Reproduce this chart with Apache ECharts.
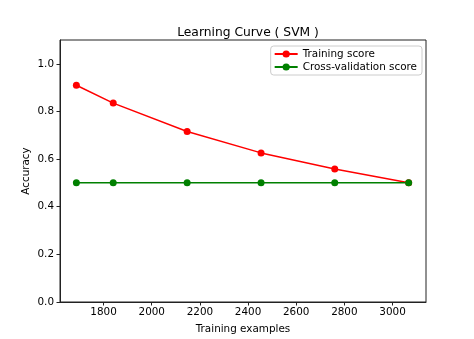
<!DOCTYPE html>
<html>
<head>
<meta charset="utf-8">
<script src="https://cdn.jsdelivr.net/npm/echarts@6/dist/echarts.min.js"></script>
<style>html,body{margin:0;padding:0;background:#fff}#c{width:474px;height:339px}</style>
</head>
<body>
<div id="c"></div>
<script>
const trainSizes = [1687, 1840, 2147, 2454, 2760, 3067];
const trainScore = [0.910, 0.835, 0.716, 0.626, 0.558, 0.501];
const cvScore = [0.501, 0.501, 0.501, 0.501, 0.501, 0.501];
const xTicks = [1800, 2000, 2200, 2400, 2600, 2800, 3000];
const yTicks = [0.0, 0.2, 0.4, 0.6, 0.8, 1.0];

const font = 'DejaVu Sans';
const chart = echarts.init(document.getElementById('c'), null, {renderer: 'canvas'});
chart.setOption({
  animation: false,
  backgroundColor: '#fff',
  textStyle: {fontFamily: font},
  title: {
    text: 'Learning Curve ( SVM )',
    left: 243, top: 22, textAlign: 'center',
    textStyle: {fontFamily: font, fontSize: 12.3, fontWeight: 'normal', color: '#000'}
  },
  grid: {left: 60, right: 48, top: 40, bottom: 37, show: true, borderColor: '#222', borderWidth: 1, backgroundColor: 'transparent'},
  legend: {
    orient: 'vertical', right: 52, top: 46,
    backgroundColor: 'rgba(255,255,255,0.8)',
    borderColor: '#ccc', borderWidth: 1, borderRadius: 3,
    padding: [3, 5, 3, 3],
    itemWidth: 23, itemHeight: 9, itemGap: 3,
    textStyle: {fontFamily: font, fontSize: 10.4, color: '#000'},
    data: ['Training score', 'Cross-validation score']
  },
  xAxis: {
    type: 'value', min: 1619, max: 3139,
    name: 'Training examples', nameLocation: 'middle', nameGap: 22, nameMoveOverlap: false,
    nameTextStyle: {fontFamily: font, fontSize: 10.4, color: '#000'},
    axisLine: {show: true, lineStyle: {color: '#222', width: 1}},
    axisTick: {show: true, inside: false, length: 3.5, lineStyle: {color: '#222'}, customValues: xTicks},
    axisLabel: {fontFamily: font, fontSize: 10.4, color: '#000', margin: 5, customValues: xTicks,
      formatter: v => String(v)},
    splitLine: {show: false}
  },
  yAxis: {
    type: 'value', min: 0, max: 1.1,
    name: 'Accuracy', nameLocation: 'middle', nameGap: 29, nameRotate: 90, nameMoveOverlap: false,
    nameTextStyle: {fontFamily: font, fontSize: 10.4, color: '#000'},
    axisLine: {show: true, lineStyle: {color: '#222', width: 1}},
    axisTick: {show: true, inside: false, length: 3.5, lineStyle: {color: '#222'}, customValues: yTicks},
    axisLabel: {fontFamily: font, fontSize: 10.4, color: '#000', margin: 6, customValues: yTicks,
      formatter: v => v.toFixed(1)},
    splitLine: {show: false}
  },
  series: [
    {
      name: 'Training score', type: 'line',
      data: trainSizes.map((x, i) => [x, trainScore[i]]),
      symbol: 'circle', symbolSize: 7,
      lineStyle: {color: '#ff0000', width: 1.5},
      itemStyle: {color: '#ff0000'}
    },
    {
      name: 'Cross-validation score', type: 'line',
      data: trainSizes.map((x, i) => [x, cvScore[i]]),
      symbol: 'circle', symbolSize: 7,
      lineStyle: {color: '#008000', width: 1.5},
      itemStyle: {color: '#008000'}
    }
  ]
});
</script>
</body>
</html>
